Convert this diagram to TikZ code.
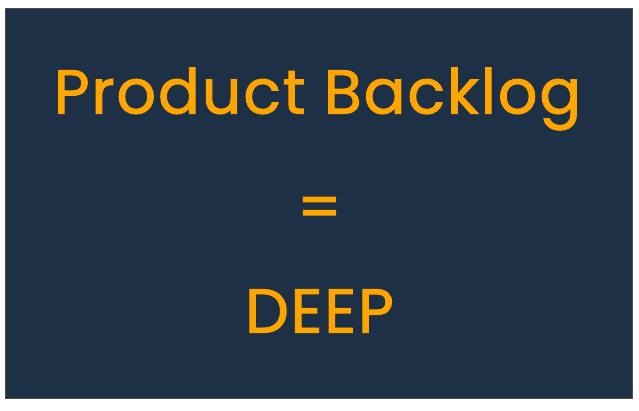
\documentclass[tikz,border=0pt]{standalone}
\usepackage{fontspec}
\setmainfont{Poppins}[FakeBold=1.5,LetterSpace=3]
\definecolor{navy}{HTML}{1D3045}
\definecolor{org}{HTML}{FFA500}
\begin{document}
\begin{tikzpicture}[x=1pt,y=1pt,lbl/.style={text=org,font=\fontsize{62}{62}\selectfont,anchor=center}]
\useasboundingbox (0,0) rectangle (639,411);
\node[draw=black!70,line width=0.8pt,fill=navy,minimum width=627pt,minimum height=390pt,inner sep=0pt] (bg) at (318.5,208) {};
\node[lbl] (t1) at (317.5,312) {Product Backlog};
\node[lbl] (t2) at (319.5,198) {=};
\node[lbl] (t3) at (319.5,100) {DEEP};
\end{tikzpicture}
\end{document}
